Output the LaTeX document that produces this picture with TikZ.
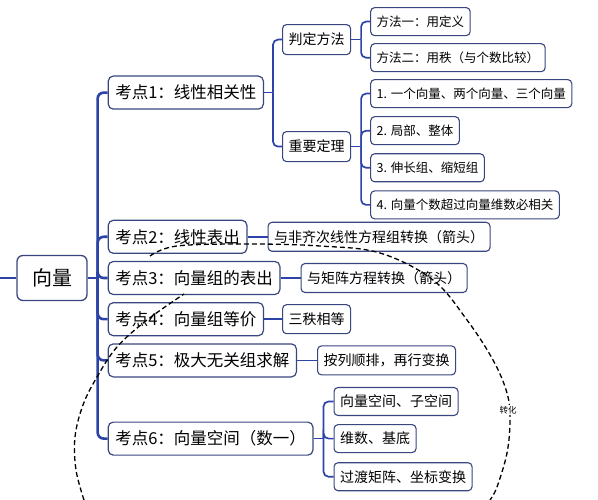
\documentclass[tikz,border=0pt]{standalone}
\usepackage{fontspec}
\setmainfont{Noto Sans CJK SC}
\usetikzlibrary{positioning}
\definecolor{boxline}{RGB}{58,70,128}
\definecolor{trunkblue}{RGB}{44,68,168}

\begin{document}
\begin{tikzpicture}
[x=1pt, y=-1pt,
% STYLES
topic/.style={rectangle, draw=boxline, fill=white, line width=1.3pt, rounded corners=6pt, minimum width=70pt, minimum height=45pt, font=\fontsize{20}{24}\selectfont},
kaodian/.style={rectangle, draw=boxline, fill=white, line width=1.2pt, rounded corners=5pt, inner xsep=7pt, inner ysep=0pt, minimum height=33pt, font=\fontsize{16.5}{20}\selectfont},
method/.style={rectangle, draw=boxline, fill=white, line width=1.1pt, rounded corners=4pt, inner xsep=6pt, inner ysep=0pt, minimum height=29pt, font=\fontsize{14}{17}\selectfont},
leaf/.style={rectangle, draw=boxline, fill=white, line width=1.1pt, rounded corners=4pt, inner xsep=6pt, inner ysep=0pt, minimum height=28pt, font=\fontsize{12.5}{15}\selectfont},
trunk/.style={draw=trunkblue, line width=2.6pt, rounded corners=6pt},
branch/.style={draw=trunkblue, line width=1.7pt, rounded corners=5pt},
ring/.style={draw=black, line width=1.3pt, dash pattern=on 5pt off 3pt},
remark/.style={font=\fontsize{8.5}{10}\selectfont, fill=white, inner sep=1pt}]

\useasboundingbox (0,0) rectangle (598,500);

% root
\node [topic] (vec) at (52,278) {向量};

% exam points
\node [kaodian, right=20pt of vec] (kd3) {考点3：向量组的表出};
\node [kaodian, above=7pt of kd3.north west, anchor=south west] (kd2) {考点2：线性表出};
\node [kaodian, above=110pt of kd2.north west, anchor=south west] (kd1) {考点1：线性相关性};
\node [kaodian, below=7pt of kd3.south west, anchor=north west] (kd4) {考点4：向量组等价};
\node [kaodian, below=7pt of kd4.south west, anchor=north west] (kd5) {考点5：极大无关组求解};
\node [kaodian, below=44pt of kd5.south west, anchor=north west] (kd6) {考点6：向量空间（数一）};

% linear dependence
\node [method, minimum height=30pt, right=18pt of kd1, yshift=53pt] (judge) {判定方法};
\node [method, minimum height=30pt, right=18pt of kd1, yshift=-54pt] (theorem) {重要定理};
\node [leaf, right=19pt of judge, yshift=18pt] (m1) {方法一：用定义};
\node [leaf, below=7pt of m1.south west, anchor=north west] (m2) {方法二：用秩（与个数比较）};
\node [leaf, right=19pt of theorem, yshift=53pt] (t1) {1. 一个向量、两个向量、三个向量};
\node [leaf, below=8pt of t1.south west, anchor=north west] (t2) {2. 局部、整体};
\node [leaf, below=8pt of t2.south west, anchor=north west] (t3) {3. 伸长组、缩短组};
\node [leaf, below=8pt of t3.south west, anchor=north west] (t4) {4. 向量个数超过向量维数必相关};

% single leaves
\node [method, right=20pt of kd2] (a2) {与非齐次线性方程组转换（箭头）};
\node [method, right=20pt of kd3] (a3) {与矩阵方程转换（箭头）};
\node [method, right=18pt of kd4] (a4) {三秩相等};
\node [method, right=20pt of kd5] (a5) {按列顺排，再行变换};

% vector space
\node [method, minimum height=28pt, right=20pt of kd6] (b2) {维数、基底};
\node [method, minimum height=28pt, above=8pt of b2.north west, anchor=south west] (b1) {向量空间、子空间};
\node [method, minimum height=28pt, below=9pt of b2.south west, anchor=north west] (b3) {过渡矩阵、坐标变换};

%%%%%%%%%%%%%%%%

\coordinate (entry) at (0,278);
\draw[trunk] (entry) -- (vec);
\draw[trunk] (vec.east) -- ++(10,0) coordinate (fork);
\foreach \k in {kd1,kd2,kd3,kd4,kd5,kd6}
  \draw[trunk] (fork) |- (\k.west);

\draw[branch] (kd1.east) -- ++(9,0) coordinate (kd1fork);
\foreach \c in {judge,theorem}
  \draw[branch] (kd1fork) |- (\c.west);
\draw[branch] (judge.east) -- ++(10,0) coordinate (judgefork);
\foreach \c in {m1,m2}
  \draw[branch] (judgefork) |- (\c.west);
\draw[branch] (theorem.east) -- ++(10,0) coordinate (theoremfork);
\foreach \c in {t1,t2,t3,t4}
  \draw[branch] (theoremfork) |- (\c.west);
\draw[branch] (kd6.east) -- ++(10,0) coordinate (kd6fork);
\foreach \c in {b1,b2,b3}
  \draw[branch] (kd6fork) |- (\c.west);

\path[branch]
(kd2) edge (a2)
(kd3) edge (a3)
(kd4) edge (a4)
(kd5) edge (a5);

%%%%%%%%%%%

% transformation loop
\draw[ring] plot[smooth, tension=0.6] coordinates {(150,256) (177,246) (250,244) (320,246) (380,253) (433,280) (467,320) (493,360) (507,393) (510,420) (507,453) (497,487) (490,500)};
\draw[ring] plot[smooth, tension=0.6] coordinates {(84,500) (76,470) (75,437) (83,405) (97,377) (117,347) (147,320) (184,294)};
\node [remark] (turn) at (508,410) {转化};

\end{tikzpicture}
\end{document}
